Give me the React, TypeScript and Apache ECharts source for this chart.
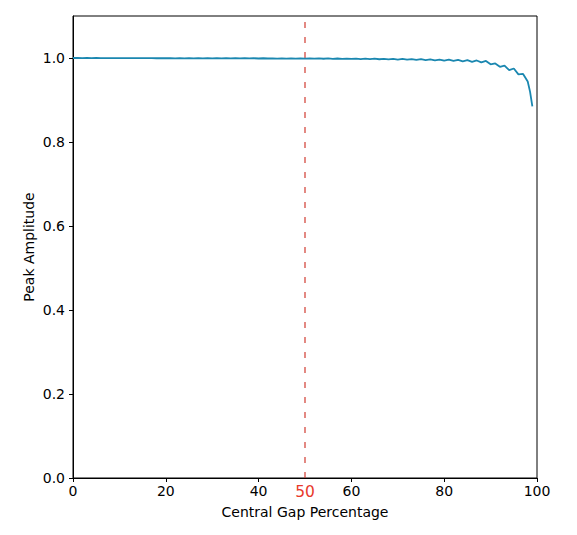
import React, { useEffect, useRef } from "react";
import * as echarts from "echarts";

// gap percentage (x) and peak amplitude
const gapPercent = [
  0, 1, 2, 3, 4, 5, 6, 7, 8, 9,
  10, 11, 12, 13, 14, 15, 16, 17, 18, 19,
  20, 21, 22, 23, 24, 25, 26, 27, 28, 29,
  30, 31, 32, 33, 34, 35, 36, 37, 38, 39,
  40, 41, 42, 43, 44, 45, 46, 47, 48, 49,
  50, 51, 52, 53, 54, 55, 56, 57, 58, 59,
  60, 61, 62, 63, 64, 65, 66, 67, 68, 69,
  70, 71, 72, 73, 74, 75, 76, 77, 78, 79,
  80, 81, 82, 83, 84, 85, 86, 87, 88, 89,
  90, 91, 92, 93, 94, 95, 96, 97, 98, 98.5, 99,
];
const peakAmplitude = [
  1.0, 1.0, 0.9998, 1.0, 0.9997, 1.0, 0.9997, 0.9999, 0.9996, 0.9999,
  0.9996, 0.9999, 0.9995, 0.9999, 0.9995, 0.9998, 0.9995, 0.9998, 0.9994, 0.9998,
  0.9994, 0.9998, 0.9993, 0.9997, 0.9993, 0.9997, 0.9992, 0.9997, 0.9992, 0.9996,
  0.9991, 0.9996, 0.9991, 0.9996, 0.999, 0.9995, 0.999, 0.9995, 0.9989, 0.9994,
  0.9988, 0.9994, 0.9988, 0.9993, 0.9987, 0.9993, 0.9986, 0.9992, 0.9985, 0.9991,
  0.9984, 0.9991, 0.9983, 0.999, 0.9982, 0.9989, 0.998, 0.9988, 0.9979, 0.9987,
  0.9977, 0.9986, 0.9975, 0.9984, 0.9972, 0.9983, 0.997, 0.9981, 0.9967, 0.9979,
  0.9963, 0.9977, 0.9959, 0.9974, 0.9955, 0.9971, 0.995, 0.9968, 0.9945, 0.9964,
  0.9938, 0.996, 0.993, 0.9955, 0.9921, 0.9949, 0.991, 0.9941, 0.9897, 0.993,
  0.985, 0.987, 0.979, 0.982, 0.971, 0.975, 0.961, 0.962, 0.944, 0.92, 0.885,
];
const xTicks = [0, 20, 40, 60, 80, 100];
const xLabels = [0, 20, 40, 50, 60, 80, 100];
const yTicks = [0, 0.2, 0.4, 0.6, 0.8, 1.0];
const markedGap = 50;
const yMin = 0;
const yMax = 1.1;

const FONT = "DejaVu Sans";
const RED = "#d03a30";

const App = () => {
  const chartRef = useRef(null);

  useEffect(() => {
    let myChart: echarts.ECharts = null;
    if (chartRef.current !== null) {
      myChart = echarts.init(chartRef.current, null, { renderer: "svg" });
    }

    const option = {
      animation: false,
      backgroundColor: "#ffffff",
      textStyle: { fontFamily: FONT },
      grid: {
        left: 73,
        right: 40,
        top: 16,
        bottom: 57,
        show: true,
        borderColor: "#000000",
        borderWidth: 1,
        containLabel: false,
      },
      xAxis: {
        type: "value",
        min: 0,
        max: 100,
        name: "Central Gap Percentage",
        nameLocation: "middle",
        nameGap: 26,
        nameTextStyle: { color: "#000", fontSize: 14, fontFamily: FONT },
        axisLine: { show: true, lineStyle: { color: "#000", width: 1 } },
        axisTick: {
          show: true,
          inside: false,
          length: 4,
          customValues: xTicks,
          lineStyle: { color: "#000" },
        },
        axisLabel: {
          customValues: xLabels,
          margin: 6,
          color: "#000",
          fontSize: 14,
          fontFamily: FONT,
          formatter: (v: number) => (v === markedGap ? "{red|" + v + "}" : String(v)),
          rich: {
            red: { color: "#e8392b", fontSize: 15.5, fontFamily: FONT },
          },
        },
        splitLine: { show: false },
      },
      yAxis: {
        type: "value",
        min: yMin,
        max: yMax,
        name: "Peak Amplitude",
        nameLocation: "middle",
        nameGap: 37,
        nameMoveOverlap: false,
        nameTextStyle: { color: "#000", fontSize: 14, fontFamily: FONT },
        axisLine: { show: true, lineStyle: { color: "#000", width: 1 } },
        axisTick: {
          show: true,
          inside: false,
          length: 4,
          customValues: yTicks,
          lineStyle: { color: "#000" },
        },
        axisLabel: {
          customValues: yTicks,
          margin: 8,
          color: "#000",
          fontSize: 14,
          fontFamily: FONT,
          formatter: (v: number) => v.toFixed(1),
        },
        splitLine: { show: false },
      },
      series: [
        {
          // dashed marker at 50%
          type: "line",
          data: [
            [markedGap, yMin],
            [markedGap, yMax],
          ],
          showSymbol: false,
          symbol: "none",
          silent: true,
          z: 1,
          color: RED,
          lineStyle: { color: RED, width: 1.2, type: [6, 9] },
        },
        {
          type: "line",
          data: gapPercent.map((x, i) => [x, peakAmplitude[i]]),
          showSymbol: false,
          symbol: "none",
          z: 2,
          color: "#1a87b0",
          lineStyle: { color: "#1a87b0", width: 1.8 },
        },
      ],
    };

    if (myChart !== null) {
      myChart.setOption(option);
    }

    return () => {
      if (myChart !== null) {
        myChart.dispose();
      }
    };
  }, []);

  return (
    <div
      ref={chartRef}
      style={{ position: "fixed", left: 0, top: 0, width: 577, height: 535 }}
    ></div>
  );
};

export default App;
